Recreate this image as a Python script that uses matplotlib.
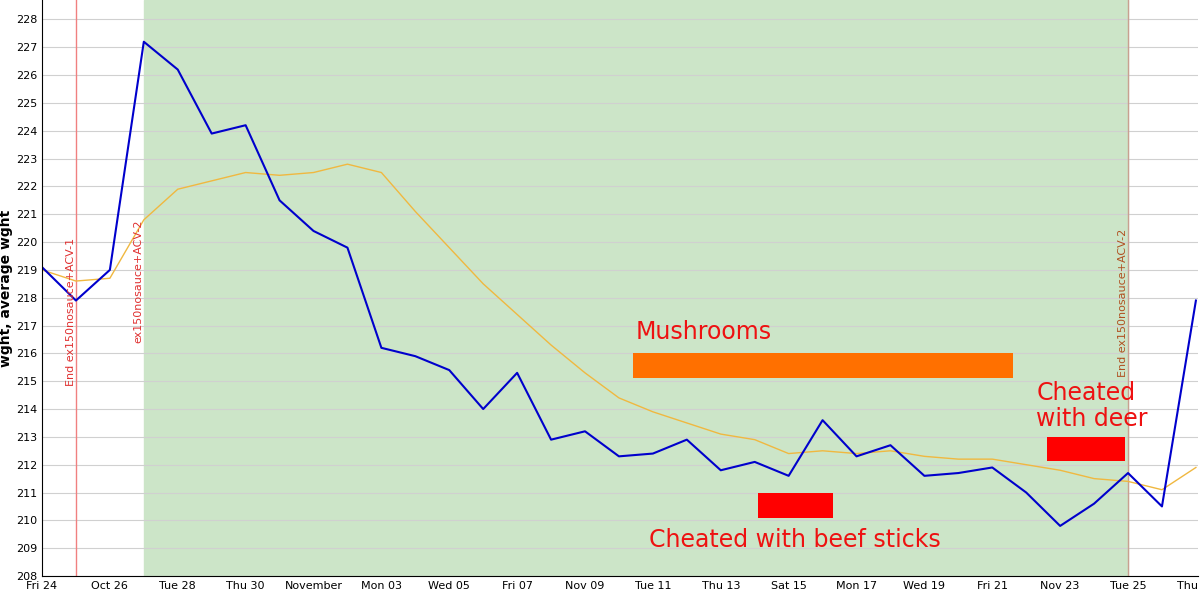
import matplotlib.pyplot as plt
import numpy as np

days = np.arange(35)  # Oct 24 .. Nov 27
weight = [219.1, 217.9, 219.0, 227.2, 226.2, 223.9, 224.2, 221.5, 220.4, 219.8,
          216.2, 215.9, 215.4, 214.0, 215.3, 212.9, 213.2, 212.3, 212.4, 212.9,
          211.8, 212.1, 211.6, 213.6, 212.3, 212.7, 211.6, 211.7, 211.9, 211.0,
          209.8, 210.6, 211.7, 210.5, 217.9]
avg_weight = [219.0, 218.6, 218.7, 220.8, 221.9, 222.2, 222.5, 222.4, 222.5, 222.8,
              222.5, 221.1, 219.8, 218.5, 217.4, 216.3, 215.3, 214.4, 213.9, 213.5,
              213.1, 212.9, 212.4, 212.5, 212.4, 212.5, 212.3, 212.2, 212.2, 212.0,
              211.8, 211.5, 211.4, 211.1, 211.9]
tick_labels = ["Fri 24", "Oct 26", "Tue 28", "Thu 30", "November", "Mon 03", "Wed 05",
               "Fri 07", "Nov 09", "Tue 11", "Thu 13", "Sat 15", "Mon 17", "Wed 19",
               "Fri 21", "Nov 23", "Tue 25", "Thu 27"]

fig = plt.figure(figsize=(12, 6), dpi=100)
ax = fig.add_axes([0.035, 0.04, 0.963, 0.96])

ax.axvspan(3, 32, color="#cce5c8", zorder=0)
ax.axvline(1, color="#f08080", lw=1)
ax.axvline(32, color="#c8a090", lw=1)
ax.text(0.85, 217.5, "End ex150nosauce+ACV-1", rotation=90, color="#e03030", fontsize=8, ha="center", va="center")
ax.text(2.85, 218.6, "ex150nosauce+ACV-2", rotation=90, color="#e03030", fontsize=8, ha="center", va="center")
ax.text(31.85, 217.8, "End ex150nosauce+ACV-2", rotation=90, color="#b05020", fontsize=8, ha="center", va="center")

ax.plot(days, avg_weight, color="#f0b840", lw=1)
ax.plot(days, weight, color="#0000cc", lw=1.5)

# annotation bars
ax.fill_between([17.4, 28.6], 215.1, 216.0, color="#ff7000", lw=0)
ax.fill_between([21.1, 23.3], 210.1, 211.0, color="#ff0000", lw=0)
ax.fill_between([29.6, 31.9], 212.15, 213.0, color="#ff0000", lw=0)
ax.text(17.5, 216.35, "Mushrooms", color="#ee1111", fontsize=17, va="bottom")
ax.text(17.9, 209.3, "Cheated with beef sticks", color="#ee1111", fontsize=17, va="center")
ax.text(29.3, 214.1, "Cheated\nwith deer", color="#ee1111", fontsize=17, va="center", linespacing=1.1)

ax.set_xlim(0, 34.05)
ax.set_ylim(208, 228.7)
ax.set_yticks(range(208, 229))
ax.set_xticks(days[::2])
ax.set_xticklabels(tick_labels)
ax.tick_params(labelsize=8, length=0)
ax.set_ylabel("wght, average wght", fontsize=10, fontweight="bold", labelpad=2)
ax.grid(True, axis="y", color="#d0d0d0", lw=0.8)
ax.set_axisbelow(True)
for s in ["top", "right"]:
    ax.spines[s].set_visible(False)

fig.savefig("out.png")
